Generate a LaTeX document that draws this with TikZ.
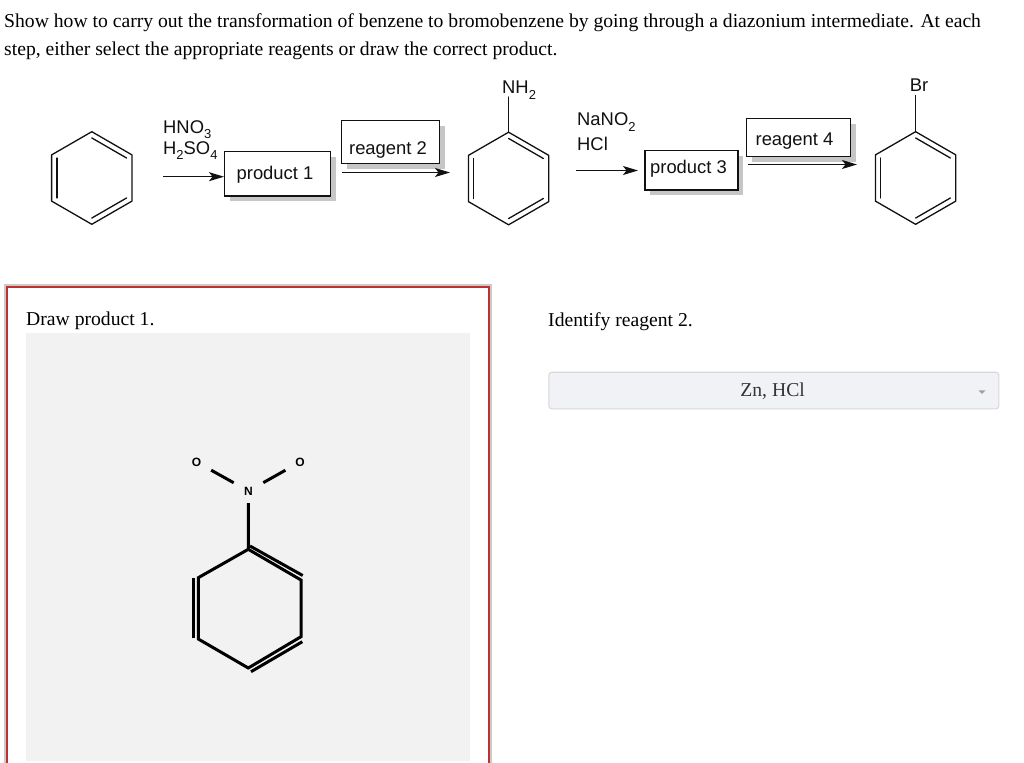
\documentclass[tikz,border=0pt]{standalone}
\usepackage{fontspec}
\setmainfont{Liberation Serif}
\newfontfamily\labelfont{Liberation Sans}
\usetikzlibrary{arrows.meta,shadows,calc}
\definecolor{inkc}{HTML}{111111}
\definecolor{shadowc}{HTML}{C6C6C6}
\definecolor{redc}{HTML}{C0302E}
\definecolor{panelg}{HTML}{CBCBCB}
\definecolor{canvasg}{HTML}{F2F2F2}
\definecolor{selectf}{HTML}{F1F2F6}
\definecolor{selectb}{HTML}{D8D8DC}
\newcommand{\subs}[1]{\raisebox{-0.28em}{\fontsize{13}{13}\selectfont #1}}
\newcommand{\drawring}[4]{% prefix, cx, cy, style
  \path (#2,#3) ++(0,-46.3) coordinate (#1a)
        (#2,#3) ++(40.2,-23.1) coordinate (#1b)
        (#2,#3) ++(40.2,23.1) coordinate (#1c)
        (#2,#3) ++(0,46.3) coordinate (#1d)
        (#2,#3) ++(-40.2,23.1) coordinate (#1e)
        (#2,#3) ++(-40.2,-23.1) coordinate (#1f)
        (#2,#3) coordinate (#1o);
  \draw[#4] (#1a)--(#1b)--(#1c)--(#1d)--(#1e)--(#1f)--cycle;
  \draw[#4] ($(#1o)!0.865!(#1a)$) -- ($(#1o)!0.865!(#1b)$);
  \draw[#4] ($(#1o)!0.865!(#1c)$) -- ($(#1o)!0.865!(#1d)$);
  \draw[#4] ($(#1o)!0.865!(#1e)$) -- ($(#1o)!0.865!(#1f)$);
}
\tikzset{
  bondline/.style={draw=inkc,line width=1.3pt,line cap=round,line join=round},
  boldbond/.style={draw=black,line width=3pt,line join=miter},
  rxnarrow/.style={draw=inkc,line width=1.3pt,-{Stealth[length=15pt,width=9pt,inset=3.5pt]}},
  answerbox/.style={draw=inkc,line width=1.3pt,fill=white,inner sep=0pt,anchor=north west,
    copy shadow={shadow xshift=5.5pt,shadow yshift=-5.5pt,fill=shadowc,draw=none}},
  chemlabel/.style={inner sep=0pt,font=\labelfont\fontsize{18.4}{21}\selectfont,text=inkc},
  pagetext/.style={inner sep=0pt,anchor=base west,font=\fontsize{19.65}{22}\selectfont,text=black},
  atomlabel/.style={inner sep=0pt,font=\labelfont\bfseries\fontsize{12}{12}\selectfont,text=black},
}
\begin{document}
\begin{tikzpicture}[x=1pt,y=-1pt]
\useasboundingbox (0,0) rectangle (1024,762);
\fill[white] (0,0) rectangle (1024,762);

% question text
\node[pagetext] (q1) at (4,28) {Show how to carry out the transformation of benzene to bromobenzene by going through a diazonium intermediate. At each};
\node[pagetext] (q2) at (4,56) {step, either select the appropriate reagents or draw the correct product.};

% molecules
\drawring{r}{91.8}{178}{bondline}
\drawring{s}{508.6}{178.5}{bondline}
\drawring{t}{915.6}{178}{bondline}

\node[chemlabel,anchor=base west] (nh) at (502,94) {NH\subs{2}};
\coordinate (nhb) at (508.6,97);
\draw[bondline] (sa) -- (nhb);
\node[chemlabel,anchor=base] (br) at (919,92) {Br};
\coordinate (brb) at (915.6,95.5);
\draw[bondline] (ta) -- (brb);

% reagents
\node[chemlabel,anchor=base west] (r1a) at (163,133.5) {HNO\subs{3}};
\node[chemlabel,anchor=base west] (r1b) at (163,154.5) {H\subs{2}SO\subs{4}};
\node[chemlabel,anchor=base west] (r3a) at (577,126) {NaNO\subs{2}};
\node[chemlabel,anchor=base west] (r3b) at (577,150) {HCl};

% answer boxes
\node[answerbox,minimum width=106pt,minimum height=44.3pt] (p1) at (224,151) {};
\node[chemlabel] (p1t) at (275,174.5) {product 1};
\node[answerbox,minimum width=97.7pt,minimum height=43pt] (p2) at (341,120) {};
\node[chemlabel] (p2t) at (388,149.5) {reagent 2};
\node[answerbox,minimum width=93pt,minimum height=39.3pt] (p3) at (644.3,150) {};
\node[chemlabel] (p3t) at (688.5,168.5) {product 3};
\node[answerbox,minimum width=103.7pt,minimum height=38.3pt] (p4) at (746,117.7) {};
\node[chemlabel] (p4t) at (794.5,141.5) {reagent 4};

% arrows
\coordinate (a1s) at (163,176.7);
\coordinate (a2s) at (342,172.5);
\coordinate (a2e) at (450,172.5);
\coordinate (a3s) at (576,170.5);
\coordinate (a3e) at (638,170.5);
\coordinate (a4s) at (748,164.5);
\coordinate (a4e) at (857,164.5);
\draw[rxnarrow] (a1s) -- (a1s -| p1.west);
\draw[rxnarrow] (a2s) -- (a2e);
\draw[rxnarrow] (a3s) -- (a3e);
\draw[rxnarrow] (a4s) -- (a4e);

% left panel
\draw[panelg,line width=2pt] (5,763) -- (5,285) -- (491,285) -- (491,763);
\draw[redc,line width=2pt] (7,763) -- (7,287) -- (489,287) -- (489,763);
\node[pagetext] (d1) at (26,325) {Draw product 1.};
\fill[canvasg] (26,332.7) rectangle (470,761);

% drawn product
\coordinate (ma) at (248.3,549.3);
\coordinate (mb) at (301,580);
\coordinate (mc) at (301,636.7);
\coordinate (md) at (248.3,668);
\coordinate (me) at (198.3,639);
\coordinate (mf) at (198.3,577.7);
\draw[boldbond] (ma)--(mb)--(mc)--(md)--(me)--(mf)--cycle;
\coordinate (ma2) at (250,546);
\coordinate (mb2) at (302.7,575.5);
\coordinate (mc2) at (302.3,641.7);
\coordinate (md2) at (251,671.7);
\coordinate (me2) at (193.3,638.3);
\coordinate (mf2) at (193.3,578.3);
\draw[boldbond] (ma2) -- (mb2);
\draw[boldbond] (mc2) -- (md2);
\draw[boldbond] (me2) -- (mf2);
\node[atomlabel] (n) at (248.5,491) {N};
\node[atomlabel] (o1) at (196.5,462) {O};
\node[atomlabel] (o2) at (300,462) {O};
\draw[boldbond,shorten <=12pt] (n.center) -- (ma);
\draw[boldbond,shorten <=16.8pt,shorten >=17pt] (o1.center) -- (n.center);
\draw[boldbond,shorten <=16.8pt,shorten >=17pt] (o2.center) -- (n.center);

% right panel
\node[pagetext] (d2) at (548,326) {Identify reagent 2.};
\node[draw=selectb,line width=1.1pt,fill=selectf,rounded corners=3pt,anchor=north west,minimum width=450pt,minimum height=36.6pt,inner sep=0pt] (sel) at (548.3,371.7) {};
\node[inner sep=0pt,anchor=base,font=\fontsize{19.65}{22}\selectfont,text={black!80}] (selt) at (772.6,396) {Zn, HCl};
\fill[gray!75] (978.5,390.3) -- (985.5,390.3) -- (982,394) -- cycle;
\end{tikzpicture}
\end{document}
